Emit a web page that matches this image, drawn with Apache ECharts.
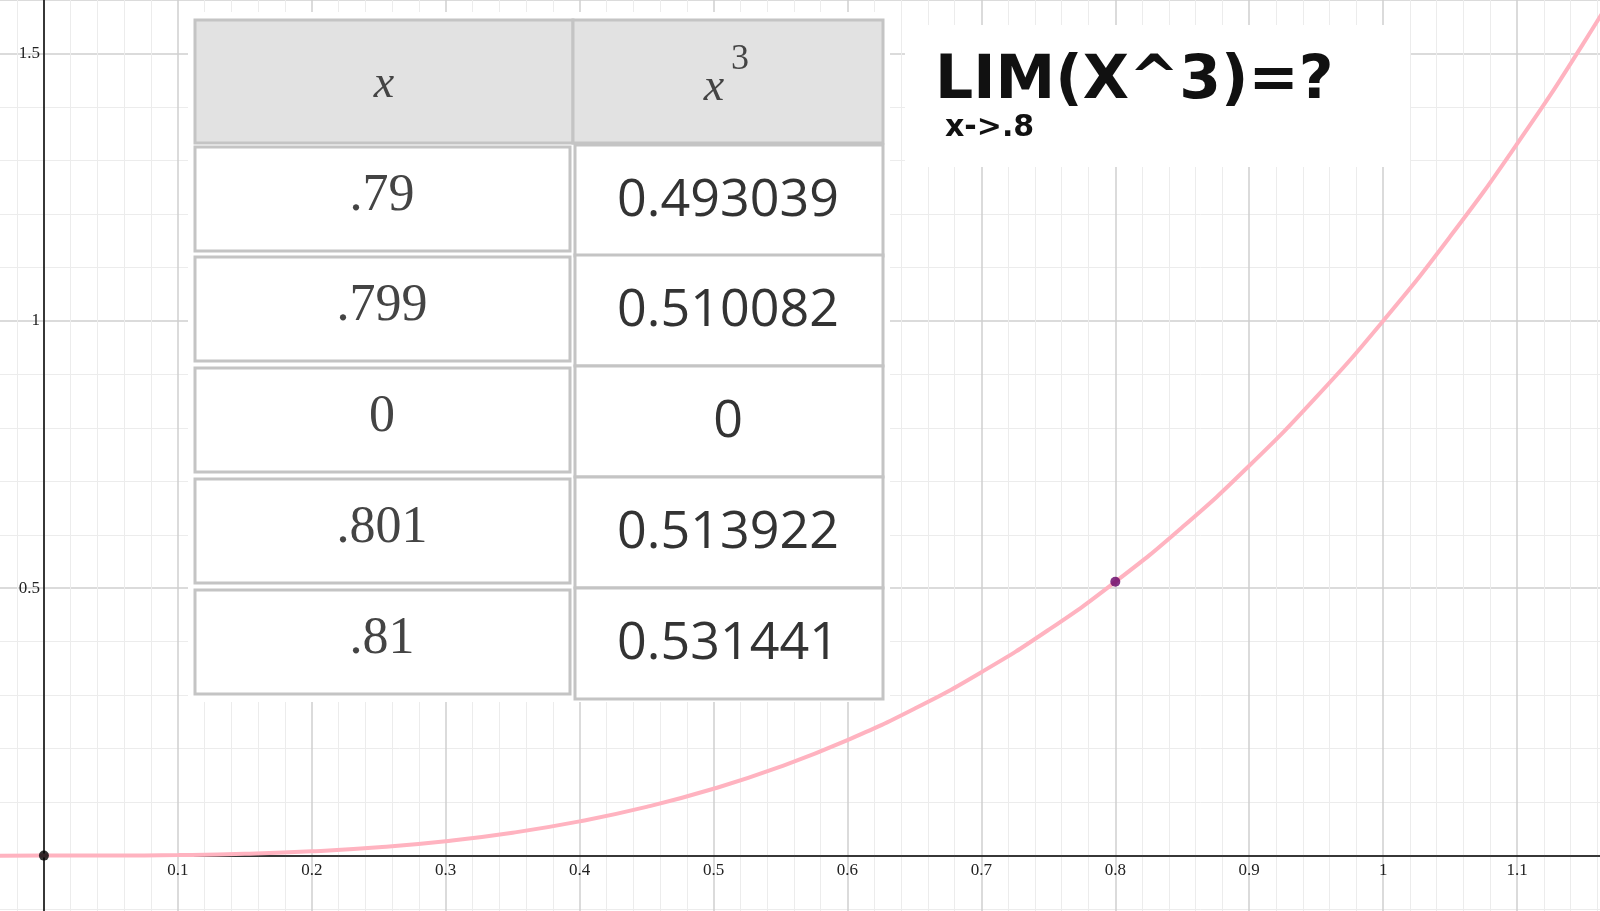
<!DOCTYPE html>
<html>
<head>
<meta charset="utf-8">
<script src="https://cdn.jsdelivr.net/npm/echarts@6/dist/echarts.min.js"></script>
<style>html,body{margin:0;padding:0;background:#fff}#container{width:1600px;height:911px}</style>
</head>
<body>
<div id="container"></div>
<script>
// curve samples of y = x^3 (values typed out)
var curveX = [-0.05, 0, 0.05, 0.1, 0.15, 0.2, 0.25, 0.3, 0.35, 0.4, 0.45, 0.5, 0.55, 0.6, 0.65, 0.7, 0.75, 0.8, 0.85, 0.9, 0.95, 1.0, 1.05, 1.1, 1.15, 1.2]
var curveY = [-0.000125, 0, 0.000125, 0.001, 0.003375, 0.008, 0.015625, 0.027, 0.042875, 0.064, 0.091125, 0.125, 0.166375, 0.216, 0.274625, 0.343, 0.421875, 0.512, 0.614125, 0.729, 0.857375, 1, 1.157625, 1.331, 1.520875, 1.728]
var limitPoint = [0.8, 0.512]
var originPoint = [0, 0]

// table
var tableX = ['.79', '.799', '0', '.801', '.81']
var tableY = ['0.493039', '0.510082', '0', '0.513922', '0.531441']
var titleText = 'LIM(X^3)=?'
var subText = 'x->.8'

var dom = document.getElementById('container')
var myChart = echarts.init(dom, null, {renderer: 'canvas'})

var graphics = []
// white area behind the table
graphics.push({type: 'rect', shape: {x: 188, y: 12, width: 702, height: 690}, style: {fill: '#fff'}, z: 100})
// header
graphics.push({type: 'rect', shape: {x: 195, y: 20, width: 378, height: 123}, style: {fill: '#e2e2e2', stroke: '#c4c4c4', lineWidth: 3}, z: 101})
graphics.push({type: 'rect', shape: {x: 573, y: 20, width: 310, height: 123}, style: {fill: '#e2e2e2', stroke: '#c4c4c4', lineWidth: 3}, z: 101})
graphics.push({type: 'text', x: 384, y: 85, style: {text: 'x', font: 'italic 46px "Liberation Serif"', fill: '#444', textAlign: 'center', textVerticalAlign: 'middle'}, z: 102})
graphics.push({type: 'text', x: 714, y: 88, style: {text: 'x', font: 'italic 46px "Liberation Serif"', fill: '#444', textAlign: 'center', textVerticalAlign: 'middle'}, z: 102})
graphics.push({type: 'text', x: 740, y: 60, style: {text: '3', font: '36px "Liberation Serif"', fill: '#444', textAlign: 'center', textVerticalAlign: 'middle'}, z: 102})
var rowTop = [145, 255, 366, 477, 588]
for (var i = 0; i < tableX.length; i++) {
    var t = rowTop[i]
    graphics.push({type: 'rect', shape: {x: 195, y: t + 2, width: 375, height: 104}, style: {fill: '#fff', stroke: '#c4c4c4', lineWidth: 3}, z: 101})
    graphics.push({type: 'rect', shape: {x: 575, y: t, width: 308, height: 111}, style: {fill: '#fff', stroke: '#c4c4c4', lineWidth: 3}, z: 101})
    graphics.push({type: 'text', x: 382, y: t + 51, style: {text: tableX[i], font: '52px "Liberation Serif"', fill: '#444', textAlign: 'center', textVerticalAlign: 'middle'}, z: 102})
    graphics.push({type: 'text', x: 728, y: t + 56, style: {text: tableY[i], font: '52px "Open Sans"', fill: '#333', textAlign: 'center', textVerticalAlign: 'middle'}, z: 102})
}
// title box
graphics.push({type: 'rect', shape: {x: 905, y: 25, width: 505, height: 142}, style: {fill: '#fff'}, z: 100})
graphics.push({type: 'text', x: 935, y: 82, style: {text: titleText, font: 'bold 60px "DejaVu Sans"', fill: '#111', textVerticalAlign: 'middle'}, z: 102})
graphics.push({type: 'text', x: 945, y: 128, style: {text: subText, font: 'bold 30px "DejaVu Sans"', fill: '#111', textVerticalAlign: 'middle'}, z: 102})

var option = {
    backgroundColor: '#fff',
    animation: false,
    grid: {left: -90, right: -51, top: 0, bottom: -212, outerBoundsMode: 'none', containLabel: false},
    xAxis: {
        type: 'value', min: -0.1, max: 1.2, interval: 0.1,
        offset: -267,
        axisLine: {onZero: false, lineStyle: {color: '#000', width: 1.5}},
        axisTick: {show: false},
        axisLabel: {
            color: '#222', fontFamily: 'Liberation Serif', fontSize: 17, margin: 6,
            formatter: function (v) { return (v <= 0.001 || v > 1.15) ? '' : String(+v.toFixed(1)) }
        },
        splitLine: {lineStyle: {color: '#cfcfcf', width: 1.5}},
        minorTick: {show: false, splitNumber: 5},
        minorSplitLine: {show: true, lineStyle: {color: '#ececec', width: 1}}
    },
    yAxis: {
        type: 'value', min: -0.5, max: 1.6, interval: 0.5,
        offset: -134,
        axisLine: {onZero: false, lineStyle: {color: '#000', width: 1.5}},
        axisTick: {show: false},
        axisLabel: {
            color: '#222', fontFamily: 'Liberation Serif', fontSize: 17, margin: 4,
            formatter: function (v) { return (v <= 0 || v > 1.55) ? '' : String(v) }
        },
        splitLine: {lineStyle: {color: '#cfcfcf', width: 1.5}},
        minorTick: {show: false, splitNumber: 5},
        minorSplitLine: {show: true, lineStyle: {color: '#ececec', width: 1}}
    },
    series: [
        {
            type: 'line', smooth: true, showSymbol: false, silent: true,
            data: curveX.map(function (x, i) { return [x, curveY[i]] }),
            lineStyle: {color: '#ffb3c0', width: 4}, z: 5
        },
        {
            type: 'scatter', data: [limitPoint], symbolSize: 10,
            itemStyle: {color: '#660066'}, z: 6
        },
        {
            type: 'scatter', data: [originPoint], symbolSize: 10,
            itemStyle: {color: '#000'}, z: 6
        }
    ],
    graphic: graphics
}
myChart.setOption(option)
window.addEventListener('resize', myChart.resize)
</script>
</body>
</html>
